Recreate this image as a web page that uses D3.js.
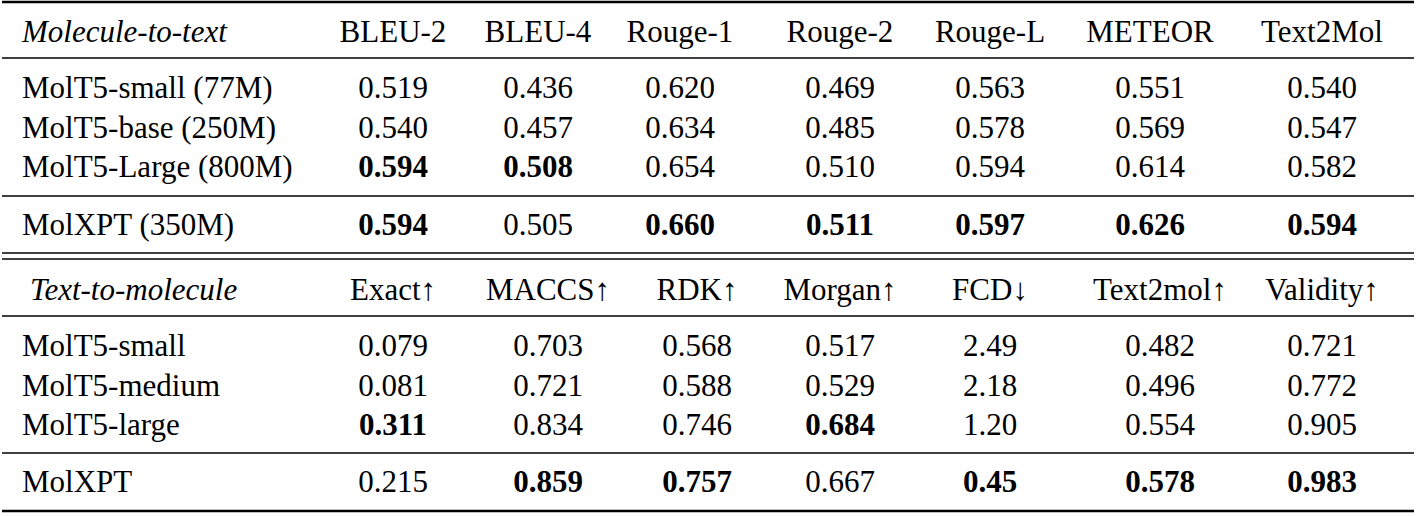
<!DOCTYPE html>
<html><head><meta charset="utf-8">
<script src="https://cdn.jsdelivr.net/npm/d3@7"></script>
<style>body{margin:0;background:#fff}</style></head>
<body><svg id="c" width="1416" height="516"></svg>
<script>
const header1 = ["BLEU-2","BLEU-4","Rouge-1","Rouge-2","Rouge-L","METEOR","Text2Mol"];
const models1 = ["MolT5-small (77M)","MolT5-base (250M)","MolT5-Large (800M)","MolXPT (350M)"];
const values1 = [
 ["0.519","0.436","0.620","0.469","0.563","0.551","0.540"],
 ["0.540","0.457","0.634","0.485","0.578","0.569","0.547"],
 ["0.594","0.508","0.654","0.510","0.594","0.614","0.582"],
 ["0.594","0.505","0.660","0.511","0.597","0.626","0.594"]];
const bold1 = [[],[],[0,1],[0,2,3,4,5,6]];
const header2 = ["Exact↑","MACCS↑","RDK↑","Morgan↑","FCD↓","Text2mol↑","Validity↑"];
const models2 = ["MolT5-small","MolT5-medium","MolT5-large","MolXPT"];
const values2 = [
 ["0.079","0.703","0.568","0.517","2.49","0.482","0.721"],
 ["0.081","0.721","0.588","0.529","2.18","0.496","0.772"],
 ["0.311","0.834","0.746","0.684","1.20","0.554","0.905"],
 ["0.215","0.859","0.757","0.667","0.45","0.578","0.983"]];
const bold2 = [[],[],[0,3],[1,2,4,5,6]];

const svg = d3.select("#c");
const font = "'Liberation Serif','Times New Roman',serif";
const fs = 31;
const x1pos = [393,538,680,840,990,1150,1322];
const x2pos = [393,548,697,840,990,1160,1322];
const xs1 = d3.scaleOrdinal().domain(d3.range(7)).range(x1pos);
const xs2 = d3.scaleOrdinal().domain(d3.range(7)).range(x2pos);

function line(y, w){ svg.append("line").attr("x1",2).attr("x2",1414).attr("y1",y).attr("y2",y).attr("stroke","#000").attr("stroke-width",w); }
line(2,2.5); line(58,1.3); line(196,1.3); line(253,1.3); line(259,1.3); line(316,1.3); line(453,1.3); line(511,2.5);

function txt(x,y,s,opt={}){
  svg.append("text").attr("x",x).attr("y",y).attr("dominant-baseline","central")
    .attr("text-anchor",opt.anchor||"middle").attr("font-family",font).attr("font-size",fs)
    .attr("font-style",opt.italic?"italic":"normal").attr("font-weight",opt.bold?"bold":"normal")
    .attr("fill","#000").text(s);
}
function section(hy, rowsY, title, titleX, headers, models, values, bold, xs){
  txt(titleX,hy,title,{anchor:"start",italic:true});
  headers.forEach((h,i)=>txt(xs(i),hy,h));
  models.forEach((m,r)=>{
    txt(22,rowsY[r],m,{anchor:"start"});
    values[r].forEach((v,i)=>txt(xs(i),rowsY[r],v,{bold:bold[r].includes(i)}));
  });
}
section(31,[87,127,166,224],"Molecule-to-text",22,header1,models1,values1,bold1,xs1);
section(289,[345,385,424,481],"Text-to-molecule",30,header2,models2,values2,bold2,xs2);
</script></body></html>
